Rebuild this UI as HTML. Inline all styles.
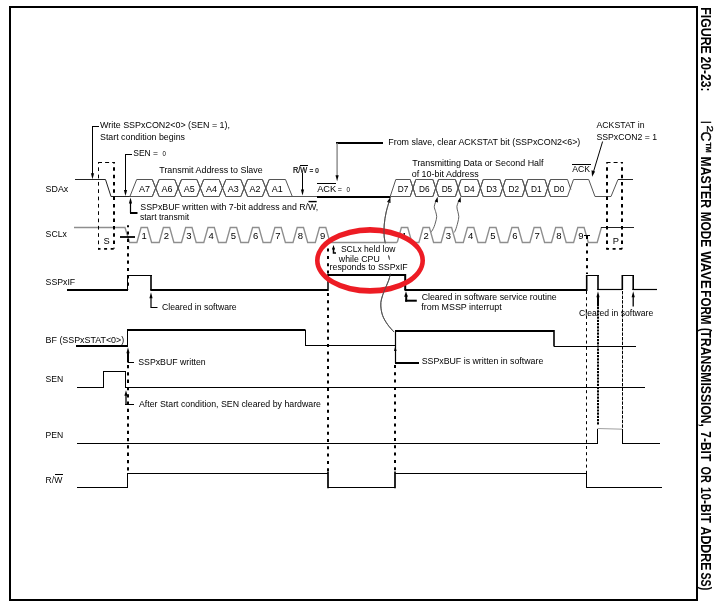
<!DOCTYPE html>
<html lang="en">
<head>
<meta charset="utf-8">
<title>FIGURE 20-23: I2C MASTER MODE WAVEFORM (TRANSMISSION, 7-BIT OR 10-BIT ADDRESS)</title>
<style>
html, body { margin: 0; padding: 0; background: #fff; }
body { width: 719px; height: 605px; overflow: hidden; }
svg { display: block; will-change: transform; }
svg text { font-family: "Liberation Sans", sans-serif; fill: #000; }
</style>
</head>
<body>
<svg width="719" height="605" viewBox="0 0 719 605" font-size="9.3">
<rect x="0" y="0" width="719" height="605" fill="#fff"/>
<rect x="10" y="7" width="687" height="593" fill="none" stroke="#000" stroke-width="2" shape-rendering="crispEdges"/>
<path d="M389.3 201 C388.8 202.8 387.1 208.0 386.2 212 C385.3 216.0 384.5 220.8 384.2 225 C383.9 229.2 383.8 233.2 384.2 237 C384.6 240.8 385.6 244.4 386.5 248 C387.4 251.6 388.6 254.8 389.3 258.5 C390.0 262.2 390.7 266.4 390.6 270 C390.5 273.6 389.8 276.7 388.8 280 C387.8 283.3 385.8 286.8 384.6 290 C383.4 293.2 382.1 296.3 381.5 299 C380.9 301.7 380.6 303.2 380.8 306 C381.0 308.8 381.5 312.4 382.6 315.5 C383.7 318.6 385.7 321.8 387.6 324.5 C389.5 327.2 392.9 330.8 394 332" stroke="#505050" stroke-width="0.9" fill="none"/>
<path d="M390.4 197 L387 202 L390.5 203 Z" fill="#000"/>
<path d="M436.3 200 C436.0 201.1 434.4 204.6 434.3 206.5 C434.2 208.4 435.2 209.8 435.6 211.5 C436.0 213.2 436.7 214.9 436.7 216.7 C436.7 218.4 436.0 220.3 435.6 222 C435.2 223.7 434.6 225.4 434.1 226.7 C433.6 228.0 433.1 229.0 432.5 230 C431.9 231.0 431.1 232.1 430.8 232.5" stroke="#505050" stroke-width="0.9" fill="none"/>
<path d="M437.6 196.7 L434.7 201.6 L438 202.4 Z" fill="#000"/>
<path d="M459.2 200 C458.8 201.1 457.1 204.6 456.9 206.5 C456.7 208.4 457.5 209.8 457.8 211.5 C458.1 213.2 458.8 214.9 458.8 216.7 C458.8 218.4 458.3 220.3 457.9 222 C457.5 223.7 457.0 225.4 456.6 226.7 C456.2 228.0 455.9 229.0 455.5 230 C455.1 231.0 454.4 232.1 454.2 232.5" stroke="#505050" stroke-width="0.9" fill="none"/>
<path d="M460.6 196.7 L457.6 201.6 L460.9 202.4 Z" fill="#000"/>
<rect x="336.5" y="243.2" width="61" height="12.2" fill="#fff"/>
<rect x="329" y="259.6" width="80" height="14" fill="#fff"/>
<path d="M75 179.5 L105.5 179.5 L111 196.5 L130 196.5" stroke="#222" stroke-width="1" fill="none" />
<path d="M129.9 196.5 L136.7 179.5 L152.3 179.5 L159.1 196.5" stroke="#555" stroke-width="1" fill="none" />
<path d="M129.9 196.5 L152.3 196.5 L159.1 179.5" stroke="#555" stroke-width="1" fill="none" />
<text x="139" y="191.8" font-size="9.5" textLength="11" lengthAdjust="spacingAndGlyphs" >A7</text>
<path d="M152.3 196.5 L159.1 179.5 L174.7 179.5 L181.5 196.5" stroke="#555" stroke-width="1" fill="none" />
<path d="M152.3 179.5 L159.1 196.5 L174.7 196.5 L181.5 179.5" stroke="#555" stroke-width="1" fill="none" />
<text x="161.4" y="191.8" font-size="9.5" textLength="11" lengthAdjust="spacingAndGlyphs" >A6</text>
<path d="M174.7 196.5 L181.5 179.5 L196.9 179.5 L203.7 196.5" stroke="#555" stroke-width="1" fill="none" />
<path d="M174.7 179.5 L181.5 196.5 L196.9 196.5 L203.7 179.5" stroke="#555" stroke-width="1" fill="none" />
<text x="183.7" y="191.8" font-size="9.5" textLength="11" lengthAdjust="spacingAndGlyphs" >A5</text>
<path d="M196.9 196.5 L203.7 179.5 L219.1 179.5 L225.9 196.5" stroke="#555" stroke-width="1" fill="none" />
<path d="M196.9 179.5 L203.7 196.5 L219.1 196.5 L225.9 179.5" stroke="#555" stroke-width="1" fill="none" />
<text x="205.9" y="191.8" font-size="9.5" textLength="11" lengthAdjust="spacingAndGlyphs" >A4</text>
<path d="M219.1 196.5 L225.9 179.5 L240.8 179.5 L247.6 196.5" stroke="#555" stroke-width="1" fill="none" />
<path d="M219.1 179.5 L225.9 196.5 L240.8 196.5 L247.6 179.5" stroke="#555" stroke-width="1" fill="none" />
<text x="227.85" y="191.8" font-size="9.5" textLength="11" lengthAdjust="spacingAndGlyphs" >A3</text>
<path d="M240.8 196.5 L247.6 179.5 L262.4 179.5 L269.2 196.5" stroke="#555" stroke-width="1" fill="none" />
<path d="M240.8 179.5 L247.6 196.5 L262.4 196.5 L269.2 179.5" stroke="#555" stroke-width="1" fill="none" />
<text x="249.5" y="191.8" font-size="9.5" textLength="11" lengthAdjust="spacingAndGlyphs" >A2</text>
<path d="M262.4 196.5 L269.2 179.5 L285.5 179.5 L292.3 196.5" stroke="#555" stroke-width="1" fill="none" />
<path d="M262.4 179.5 L269.2 196.5 L292.3 196.5" stroke="#555" stroke-width="1" fill="none" />
<text x="271.85" y="191.8" font-size="9.5" textLength="11" lengthAdjust="spacingAndGlyphs" >A1</text>
<path d="M292 196.5 L317 196.5" stroke="#555" stroke-width="1" fill="none" />
<path d="M317 197 L390.5 197" stroke="#000" stroke-width="2" fill="none" />
<path d="M390.2 196.5 L395.8 179.5 L410.2 179.5 L415.8 196.5" stroke="#555" stroke-width="1" fill="none" />
<path d="M390.2 196.5 L410.2 196.5 L415.8 179.5" stroke="#555" stroke-width="1" fill="none" />
<text x="397.7" y="191.8" font-size="9.5" textLength="10.6" lengthAdjust="spacingAndGlyphs" >D7</text>
<path d="M410.2 196.5 L415.8 179.5 L432.9 179.5 L438.5 196.5" stroke="#555" stroke-width="1" fill="none" />
<path d="M410.2 179.5 L415.8 196.5 L432.9 196.5 L438.5 179.5" stroke="#555" stroke-width="1" fill="none" />
<text x="419.05" y="191.8" font-size="9.5" textLength="10.6" lengthAdjust="spacingAndGlyphs" >D6</text>
<path d="M432.9 196.5 L438.5 179.5 L455.4 179.5 L461 196.5" stroke="#555" stroke-width="1" fill="none" />
<path d="M432.9 179.5 L438.5 196.5 L455.4 196.5 L461 179.5" stroke="#555" stroke-width="1" fill="none" />
<text x="441.65" y="191.8" font-size="9.5" textLength="10.6" lengthAdjust="spacingAndGlyphs" >D5</text>
<path d="M455.4 196.5 L461 179.5 L477.6 179.5 L483.2 196.5" stroke="#555" stroke-width="1" fill="none" />
<path d="M455.4 179.5 L461 196.5 L477.6 196.5 L483.2 179.5" stroke="#555" stroke-width="1" fill="none" />
<text x="464" y="191.8" font-size="9.5" textLength="10.6" lengthAdjust="spacingAndGlyphs" >D4</text>
<path d="M477.6 196.5 L483.2 179.5 L499.9 179.5 L505.5 196.5" stroke="#555" stroke-width="1" fill="none" />
<path d="M477.6 179.5 L483.2 196.5 L499.9 196.5 L505.5 179.5" stroke="#555" stroke-width="1" fill="none" />
<text x="486.25" y="191.8" font-size="9.5" textLength="10.6" lengthAdjust="spacingAndGlyphs" >D3</text>
<path d="M499.9 196.5 L505.5 179.5 L522.3 179.5 L527.9 196.5" stroke="#555" stroke-width="1" fill="none" />
<path d="M499.9 179.5 L505.5 196.5 L522.3 196.5 L527.9 179.5" stroke="#555" stroke-width="1" fill="none" />
<text x="508.6" y="191.8" font-size="9.5" textLength="10.6" lengthAdjust="spacingAndGlyphs" >D2</text>
<path d="M522.3 196.5 L527.9 179.5 L544.9 179.5 L550.5 196.5" stroke="#555" stroke-width="1" fill="none" />
<path d="M522.3 179.5 L527.9 196.5 L544.9 196.5 L550.5 179.5" stroke="#555" stroke-width="1" fill="none" />
<text x="531.1" y="191.8" font-size="9.5" textLength="10.6" lengthAdjust="spacingAndGlyphs" >D1</text>
<path d="M544.9 196.5 L550.5 179.5 L567.5 179.5 L570.9 189.5" stroke="#555" stroke-width="1" fill="none" />
<path d="M544.9 179.5 L550.5 196.5 L567.5 196.5" stroke="#555" stroke-width="1" fill="none" />
<text x="553.7" y="191.8" font-size="9.5" textLength="10.6" lengthAdjust="spacingAndGlyphs" >D0</text>
<path d="M567.5 196.5 L573.5 179.5 L588.7 179.5 L595 196.5 L611 196.5 L618 179.5" stroke="#555" stroke-width="1" fill="none" />
<path d="M617.6 179.5 L632.7 179.5" stroke="#222" stroke-width="1" fill="none" shape-rendering="crispEdges" />
<text x="144.2" y="238.6" font-size="9.5" text-anchor="middle" >1</text>
<text x="166.5" y="238.6" font-size="9.5" text-anchor="middle" >2</text>
<text x="188.8" y="238.6" font-size="9.5" text-anchor="middle" >3</text>
<text x="211.1" y="238.6" font-size="9.5" text-anchor="middle" >4</text>
<text x="233.4" y="238.6" font-size="9.5" text-anchor="middle" >5</text>
<text x="255.7" y="238.6" font-size="9.5" text-anchor="middle" >6</text>
<text x="278" y="238.6" font-size="9.5" text-anchor="middle" >7</text>
<text x="300.3" y="238.6" font-size="9.5" text-anchor="middle" >8</text>
<text x="322.6" y="238.6" font-size="9.5" text-anchor="middle" >9</text>
<path d="M74 227.5 L125 227.5 L129.6 242.5 L136.9 242.5 L141.1 227.5 L147.4 227.5 L151.6 242.5 L159.2 242.5 L163.4 227.5 L169.7 227.5 L173.9 242.5 L181.5 242.5 L185.7 227.5 L192 227.5 L196.2 242.5 L203.8 242.5 L208 227.5 L214.3 227.5 L218.5 242.5 L226.1 242.5 L230.3 227.5 L236.6 227.5 L240.8 242.5 L248.4 242.5 L252.6 227.5 L258.9 227.5 L263.1 242.5 L270.7 242.5 L274.9 227.5 L281.2 227.5 L285.4 242.5 L293 242.5 L297.2 227.5 L303.5 227.5 L307.7 242.5 L315.3 242.5 L319.5 227.5 L325.8 227.5 L330 242.5 L397 242.5" stroke="#8e8e8e" stroke-width="1.35" fill="none" />
<text x="404.5" y="238.6" font-size="9.5" text-anchor="middle" >1</text>
<text x="426.2" y="238.6" font-size="9.5" text-anchor="middle" >2</text>
<text x="448.4" y="238.6" font-size="9.5" text-anchor="middle" >3</text>
<text x="470.6" y="238.6" font-size="9.5" text-anchor="middle" >4</text>
<text x="492.8" y="238.6" font-size="9.5" text-anchor="middle" >5</text>
<text x="515" y="238.6" font-size="9.5" text-anchor="middle" >6</text>
<text x="537.2" y="238.6" font-size="9.5" text-anchor="middle" >7</text>
<text x="558.8" y="238.6" font-size="9.5" text-anchor="middle" >8</text>
<text x="580.9" y="238.6" font-size="9.5" text-anchor="middle" >9</text>
<path d="M397.2 242.5 L401.4 227.5 L407.7 227.5 L411.9 242.5 L418.9 242.5 L423.1 227.5 L429.4 227.5 L433.6 242.5 L441.1 242.5 L445.3 227.5 L451.6 227.5 L455.8 242.5 L463.3 242.5 L467.5 227.5 L473.8 227.5 L478 242.5 L485.5 242.5 L489.7 227.5 L496 227.5 L500.2 242.5 L507.7 242.5 L511.9 227.5 L518.2 227.5 L522.4 242.5 L529.9 242.5 L534.1 227.5 L540.4 227.5 L544.6 242.5 L551.5 242.5 L555.7 227.5 L562 227.5 L566.2 242.5 L573.6 242.5 L577.8 227.5 L584.1 227.5 L588.3 242.5 L597.2 242.5 L601.4 227.5" stroke="#8e8e8e" stroke-width="1.35" fill="none" />
<path d="M601 227.5 L634 227.5" stroke="#222" stroke-width="1" fill="none" shape-rendering="crispEdges" />
<path d="M98 162.5 L115 162.5" stroke="#000" stroke-width="1" fill="none" stroke-dasharray="4 3.1"/>
<path d="M98.5 162.5 L98.5 249.5" stroke="#000" stroke-width="1" stroke-dasharray="3.7 3.62" stroke-dashoffset="2.50" fill="none"/>
<path d="M114 162.5 L114 248.5" stroke="#000" stroke-width="2" stroke-dasharray="3.5 3.82" stroke-dashoffset="2.50" fill="none"/>
<path d="M98 248.9 L115 248.9" stroke="#000" stroke-width="1.8" fill="none" stroke-dasharray="3 3.6" stroke-dashoffset="0.5"/>
<text x="106.7" y="244" text-anchor="middle" >S</text>
<path d="M606.5 162.5 L623 162.5" stroke="#000" stroke-width="1" fill="none" stroke-dasharray="4 3.1"/>
<path d="M607 162.5 L607 249.5" stroke="#000" stroke-width="2" stroke-dasharray="3.5 3.82" stroke-dashoffset="2.50" fill="none"/>
<path d="M622 162.5 L622 248.5" stroke="#000" stroke-width="2" stroke-dasharray="3.5 3.82" stroke-dashoffset="2.50" fill="none"/>
<path d="M606.5 248.9 L623 248.9" stroke="#000" stroke-width="1.8" fill="none" stroke-dasharray="3 3.6" stroke-dashoffset="0.5"/>
<text x="615.9" y="243.7" text-anchor="middle" >P</text>
<path d="M67 290 L128 290" stroke="#000" stroke-width="2" fill="none" />
<path d="M127.5 291 L127.5 275" stroke="#000" stroke-width="1" fill="none" shape-rendering="crispEdges" />
<path d="M127.2 275.5 L151.8 275.5" stroke="#000" stroke-width="1" fill="none" shape-rendering="crispEdges" />
<path d="M151 275.5 L151 290" stroke="#000" stroke-width="1.6" fill="none" />
<path d="M150.3 290 L328 290" stroke="#000" stroke-width="2" fill="none" />
<path d="M328 291 L328 274.5" stroke="#000" stroke-width="1.5" fill="none" />
<path d="M327.3 275 L405.2 275 L405.2 290" stroke="#000" stroke-width="2" fill="none" />
<path d="M404.5 290 L586.5 290" stroke="#000" stroke-width="2" fill="none" />
<path d="M586.7 291 L586.7 275" stroke="#000" stroke-width="1.6" fill="none" />
<path d="M586 275.5 L598.8 275.5" stroke="#000" stroke-width="1" fill="none" shape-rendering="crispEdges" />
<path d="M598 275.5 L598 290" stroke="#000" stroke-width="1.6" fill="none" />
<path d="M597.3 289.5 L622.3 289.5" stroke="#000" stroke-width="1.2" fill="none" />
<path d="M622.3 290 L622.3 275" stroke="#000" stroke-width="1.6" fill="none" />
<path d="M621.5 275.5 L634 275.5" stroke="#000" stroke-width="1" fill="none" shape-rendering="crispEdges" />
<path d="M633.2 275.5 L633.2 290" stroke="#000" stroke-width="1.6" fill="none" />
<path d="M632.5 289.5 L657 289.5" stroke="#000" stroke-width="1.2" fill="none" />
<path d="M76 346 L128 346" stroke="#000" stroke-width="2" fill="none" />
<path d="M127.5 346 L127.5 330" stroke="#000" stroke-width="1" fill="none" shape-rendering="crispEdges" />
<path d="M127 330 L305.5 330" stroke="#000" stroke-width="2" fill="none" />
<path d="M305.5 330 L305.5 345.5 L395 345.5" stroke="#000" stroke-width="1" fill="none" shape-rendering="crispEdges" />
<path d="M395.5 346 L395.5 331" stroke="#000" stroke-width="1.2" fill="none" />
<path d="M395 331 L554 331" stroke="#000" stroke-width="2" fill="none" />
<path d="M554 330 L554 346.5" stroke="#000" stroke-width="1.6" fill="none" />
<path d="M554 346.5 L636 346.5" stroke="#000" stroke-width="1" fill="none" shape-rendering="crispEdges" />
<path d="M77 387.5 L103.5 387.5 L103.5 371.5 L125.5 371.5 L125.5 387.5" stroke="#000" stroke-width="1" fill="none" shape-rendering="crispEdges" />
<path d="M125 387.5 L645 387.5" stroke="#000" stroke-width="1.15" fill="none" />
<path d="M77 443.5 L597.5 443.5 L597.5 428.5" stroke="#000" stroke-width="1" fill="none" shape-rendering="crispEdges" />
<path d="M597.5 428.5 L622.5 429.2" stroke="#a0a0a0" stroke-width="1" fill="none" />
<path d="M622.5 428.5 L622.5 443.5 L660 443.5" stroke="#000" stroke-width="1" fill="none" shape-rendering="crispEdges" />
<path d="M77 487.5 L127.5 487.5 L127.5 473.5 L328 473.5" stroke="#000" stroke-width="1" fill="none" shape-rendering="crispEdges" />
<path d="M328 471.5 L328 488.3" stroke="#000" stroke-width="1.7" fill="none" />
<path d="M328 487.5 L395 487.5" stroke="#000" stroke-width="1" fill="none" shape-rendering="crispEdges" />
<path d="M395 471.5 L395 488.3" stroke="#000" stroke-width="1.7" fill="none" />
<path d="M395 473.5 L586.5 473.5 L586.5 487.5 L662 487.5" stroke="#000" stroke-width="1" fill="none" shape-rendering="crispEdges" />
<path d="M128 225.2 L128 290" stroke="#000" stroke-width="2" stroke-dasharray="3.2 4.1" stroke-dashoffset="1.10" fill="none"/>
<path d="M128 365 L128 473" stroke="#000" stroke-width="2" stroke-dasharray="3.3 4" stroke-dashoffset="0.00" fill="none"/>
<path d="M328 247.9 L328 274" stroke="#000" stroke-width="2" stroke-dasharray="3 4.3" stroke-dashoffset="6.60" fill="none"/>
<path d="M328 293 L328 473" stroke="#000" stroke-width="2" stroke-dasharray="3 4.3" stroke-dashoffset="0.00" fill="none"/>
<path d="M395 365 L395 473" stroke="#000" stroke-width="2" stroke-dasharray="3 4.3" stroke-dashoffset="0.00" fill="none"/>
<path d="M587 236 L587 274" stroke="#000" stroke-width="2" stroke-dasharray="3 4.3" stroke-dashoffset="0.00" fill="none"/>
<path d="M586.5 291 L586.5 473" stroke="#000" stroke-width="1" stroke-dasharray="3 3.2" stroke-dashoffset="0.00" fill="none"/>
<path d="M598 307 L598 425" stroke="#000" stroke-width="2" stroke-dasharray="2.2 1" stroke-dashoffset="0.00" fill="none"/>
<path d="M622.5 291 L622.5 428" stroke="#000" stroke-width="1" stroke-dasharray="3.4 1.2" stroke-dashoffset="0.00" fill="none"/>
<path d="M120 237 L135 237" stroke="#000" stroke-width="1.8" fill="none" />
<path d="M584 235.5 L590 235.5" stroke="#000" stroke-width="1" fill="none" shape-rendering="crispEdges" />
<path d="M99 126.5 L92.5 126.5 L92.5 174" stroke="#000" stroke-width="1" fill="none" shape-rendering="crispEdges" />
<path d="M90.9 173.2 L94.1 173.2 L92.5 179.2 Z" fill="#000"/>
<path d="M132 154.5 L125.5 154.5 L125.5 191" stroke="#000" stroke-width="1" fill="none" shape-rendering="crispEdges" />
<path d="M123.9 190 L127.1 190 L125.5 196 Z" fill="#000"/>
<path d="M302.5 173 L302.5 190" stroke="#000" stroke-width="1" fill="none" shape-rendering="crispEdges" />
<path d="M300.9 189.5 L304.1 189.5 L302.5 195.5 Z" fill="#000"/>
<path d="M336 143 L383 143" stroke="#000" stroke-width="2" fill="none" />
<path d="M337.1 143 L337.1 176" stroke="#888" stroke-width="1.4" fill="none" />
<path d="M335.5 175.2 L338.7 175.2 L337.1 181.2 Z" fill="#000"/>
<path d="M602.6 141.5 L593.4 172" stroke="#000" stroke-width="1" fill="none" />
<path d="M592.1 176.8 L591.5 170.2 L595.1 171.4 Z" fill="#000"/>
<path d="M130.5 203 L130.5 213" stroke="#000" stroke-width="1.2" fill="none" />
<path d="M130 213 L137.5 213" stroke="#000" stroke-width="2" fill="none" />
<path d="M128.9 203.5 L132.1 203.5 L130.5 197.5 Z" fill="#000"/>
<path d="M151 298 L151 307.5 L157.5 307.5" stroke="#000" stroke-width="1.2" fill="none" />
<path d="M149.4 298.2 L152.6 298.2 L151 292.2 Z" fill="#000"/>
<path d="M333.5 248 L333.5 253 L336 253" stroke="#000" stroke-width="1.5" fill="none" />
<path d="M331.9 249.5 L335.1 249.5 L333.5 245 Z" fill="#000"/>
<path d="M406.2 295 L406.2 301.7" stroke="#000" stroke-width="2" fill="none" />
<path d="M405.2 300.7 L416.8 300.7" stroke="#000" stroke-width="2" fill="none" />
<path d="M404.2 296.8 L407.8 296.8 L406 291.3 Z" fill="#000"/>
<path d="M598 297 L598 306.5" stroke="#000" stroke-width="2" fill="none" />
<path d="M596.4 297.3 L599.6 297.3 L598 291.3 Z" fill="#000"/>
<path d="M633.2 297 L633.2 306.5" stroke="#000" stroke-width="1.3" fill="none" />
<path d="M631.6 297.3 L634.8 297.3 L633.2 291.3 Z" fill="#000"/>
<path d="M128 353 L128 362.5" stroke="#000" stroke-width="2" fill="none" />
<path d="M128 362.5 L134.3 362.5" stroke="#000" stroke-width="1" fill="none" shape-rendering="crispEdges" />
<path d="M126.4 353.3 L129.6 353.3 L128 347.3 Z" fill="#000"/>
<path d="M126 395 L126 404.5" stroke="#000" stroke-width="1.3" fill="none" />
<path d="M125.4 404.5 L134.3 404.5" stroke="#000" stroke-width="1" fill="none" shape-rendering="crispEdges" />
<path d="M124.4 395.7 L127.6 395.7 L126 390.2 Z" fill="#000"/>
<path d="M395.5 346 L395.5 363" stroke="#000" stroke-width="1.2" fill="none" />
<path d="M395 363 L419 363" stroke="#000" stroke-width="2" fill="none" />
<path d="M394 351 L396.6 351 L395.3 346 Z" fill="#000"/>
<path d="M315 260.4 A55 33.3 0 1 1 425 260.4 A55 33.3 0 1 1 315 260.4 Z M319.6 260.4 A50.4 27.6 0 1 0 420.4 260.4 A50.4 27.6 0 1 0 319.6 260.4 Z" fill="#ed1c24" fill-rule="evenodd"/>
<clipPath id="cv"><path clip-rule="evenodd" d="M0 0H719V605H0Z M336.5 243.2h61v12.2h-61Z M329 259.6h80v14.7h-80Z"/></clipPath>
<g clip-path="url(#cv)">
<path d="M389.3 201 C388.8 202.8 387.1 208.0 386.2 212 C385.3 216.0 384.5 220.8 384.2 225 C383.9 229.2 383.8 233.2 384.2 237 C384.6 240.8 385.6 244.4 386.5 248 C387.4 251.6 388.6 254.8 389.3 258.5 C390.0 262.2 390.7 266.4 390.6 270 C390.5 273.6 389.8 276.7 388.8 280 C387.8 283.3 385.8 286.8 384.6 290 C383.4 293.2 382.1 296.3 381.5 299 C380.9 301.7 380.6 303.2 380.8 306 C381.0 308.8 381.5 312.4 382.6 315.5 C383.7 318.6 385.7 321.8 387.6 324.5 C389.5 327.2 392.9 330.8 394 332" stroke="#505050" stroke-width="0.9" fill="none"/>
</g>
<text x="100" y="127.5" textLength="130" lengthAdjust="spacingAndGlyphs" >Write SSPxCON2&lt;0&gt; (SEN = 1),</text>
<text x="100" y="140.2" textLength="85" lengthAdjust="spacingAndGlyphs" >Start condition begins</text>
<text x="133.3" y="155.5" textLength="24.7" lengthAdjust="spacingAndGlyphs" >SEN =</text>
<text x="162.6" y="155.5" font-size="7.2" textLength="3.4" lengthAdjust="spacingAndGlyphs" >0</text>
<text x="159.3" y="173" textLength="103.4" lengthAdjust="spacingAndGlyphs" >Transmit Address to Slave</text>
<text x="293" y="172.5" font-size="8.2" textLength="14.2" lengthAdjust="spacingAndGlyphs" stroke="#000" stroke-width="0.2">R/W</text>
<path d="M299.5 165.5 L307.5 165.5" stroke="#000" stroke-width="1" fill="none" shape-rendering="crispEdges" />
<text x="309.4" y="172.5" font-size="8.2" textLength="3.8" lengthAdjust="spacingAndGlyphs" stroke="#000" stroke-width="0.2">=</text>
<text x="315.2" y="172.5" font-size="7.4" textLength="3.5" lengthAdjust="spacingAndGlyphs" stroke="#000" stroke-width="0.2">0</text>
<text x="317.2" y="191.8" textLength="19" lengthAdjust="spacingAndGlyphs" >ACK</text>
<path d="M317 183.5 L336 183.5" stroke="#000" stroke-width="1" fill="none" shape-rendering="crispEdges" />
<text x="337.8" y="191.8" textLength="4.2" lengthAdjust="spacingAndGlyphs" >=</text>
<text x="346.5" y="191.8" font-size="7" textLength="3.5" lengthAdjust="spacingAndGlyphs" >0</text>
<text x="388.3" y="144.8" textLength="192" lengthAdjust="spacingAndGlyphs" >From slave, clear ACKSTAT bit (SSPxCON2&lt;6&gt;)</text>
<text x="412.3" y="165.8" textLength="131.2" lengthAdjust="spacingAndGlyphs" >Transmitting Data or Second Half</text>
<text x="411.7" y="176.8" textLength="67" lengthAdjust="spacingAndGlyphs" >of 10-bit Address</text>
<text x="596.5" y="127.9" textLength="48" lengthAdjust="spacingAndGlyphs" >ACKSTAT in</text>
<text x="596.5" y="139.8" textLength="60.5" lengthAdjust="spacingAndGlyphs" >SSPxCON2 = 1</text>
<text x="572.2" y="172.4" textLength="17.8" lengthAdjust="spacingAndGlyphs" >ACK</text>
<path d="M572 164.5 L590.5 164.5" stroke="#000" stroke-width="1" fill="none" shape-rendering="crispEdges" />
<text x="140.3" y="209.8" textLength="178" lengthAdjust="spacingAndGlyphs" >SSPxBUF written with 7-bit address and R/W,</text>
<path d="M308.5 201.6 L316.7 201.6" stroke="#000" stroke-width="1.4" fill="none" />
<text x="140" y="219.8" textLength="49.2" lengthAdjust="spacingAndGlyphs" >start transmit</text>
<text x="340.9" y="251.5" textLength="54.5" lengthAdjust="spacingAndGlyphs" >SCLx held low</text>
<text x="338.8" y="261.6" textLength="41" lengthAdjust="spacingAndGlyphs" >while CPU</text>
<text x="329.6" y="269.7" textLength="78.1" lengthAdjust="spacingAndGlyphs" >responds to SSPxIF</text>
<text x="162" y="310.3" textLength="74.7" lengthAdjust="spacingAndGlyphs" >Cleared in software</text>
<text x="421.7" y="300.2" textLength="135" lengthAdjust="spacingAndGlyphs" >Cleared in software service routine</text>
<text x="421.3" y="309.8" textLength="80.4" lengthAdjust="spacingAndGlyphs" >from MSSP interrupt</text>
<text x="579" y="315.7" textLength="74.2" lengthAdjust="spacingAndGlyphs" >Cleared in software</text>
<text x="138.3" y="365.3" textLength="67.4" lengthAdjust="spacingAndGlyphs" >SSPxBUF written</text>
<text x="421.7" y="363.8" textLength="121.6" lengthAdjust="spacingAndGlyphs" >SSPxBUF is written in software</text>
<text x="139" y="406.9" textLength="182" lengthAdjust="spacingAndGlyphs" >After Start condition, SEN cleared by hardware</text>
<text x="45.6" y="191.8" textLength="22.6" lengthAdjust="spacingAndGlyphs" >SDAx</text>
<text x="45.6" y="236.7" textLength="21.2" lengthAdjust="spacingAndGlyphs" >SCLx</text>
<text x="45.6" y="284.6" textLength="29.6" lengthAdjust="spacingAndGlyphs" >SSPxIF</text>
<text x="45.6" y="343.1" textLength="78.6" lengthAdjust="spacingAndGlyphs" >BF (SSPxSTAT&lt;0&gt;)</text>
<text x="45.6" y="381.6" textLength="17.7" lengthAdjust="spacingAndGlyphs" >SEN</text>
<text x="45.6" y="438.3" textLength="17.7" lengthAdjust="spacingAndGlyphs" >PEN</text>
<text x="45.6" y="482.6" textLength="16.7" lengthAdjust="spacingAndGlyphs" >R/W</text>
<path d="M54.5 474.5 L62.5 474.5" stroke="#000" stroke-width="1" fill="none" shape-rendering="crispEdges" />
<g transform="translate(701.1 0) rotate(90)" font-weight="bold" font-size="13.8">
<text x="7.2" y="0" textLength="46.6" lengthAdjust="spacingAndGlyphs">FIGURE</text>
<text x="56.5" y="0" textLength="35" lengthAdjust="spacingAndGlyphs">20-23:</text>
<text x="121.1" y="0" font-weight="normal" stroke="#000" stroke-width="0.35" textLength="2.8" lengthAdjust="spacingAndGlyphs">I</text>
<text x="125.6" y="-5.6" font-size="9.5" font-weight="normal" stroke="#000" stroke-width="0.35" textLength="6.6" lengthAdjust="spacingAndGlyphs">2</text>
<text x="131.5" y="0" font-weight="normal" stroke="#000" stroke-width="0.35" textLength="9.9" lengthAdjust="spacingAndGlyphs">C</text>
<text x="142.6" y="-5" font-size="7.2" font-weight="bold" stroke="#000" stroke-width="0.35" textLength="10" lengthAdjust="spacingAndGlyphs">TM</text>
<text x="156.5" y="0" textLength="51.5" lengthAdjust="spacingAndGlyphs">MASTER</text>
<text x="211.8" y="0" textLength="35.4" lengthAdjust="spacingAndGlyphs">MODE</text>
<text x="251.2" y="0" textLength="37.4" lengthAdjust="spacingAndGlyphs">WAVE</text>
<text x="290.3" y="0" textLength="34.2" lengthAdjust="spacingAndGlyphs">FORM</text>
<text x="328" y="0" textLength="3.4" lengthAdjust="spacingAndGlyphs">(</text>
<text x="330.5" y="0" textLength="96.5" lengthAdjust="spacingAndGlyphs">TRANSMISSION,</text>
<text x="431.3" y="0" textLength="29.9" lengthAdjust="spacingAndGlyphs">7-BIT</text>
<text x="466.5" y="0" textLength="16.3" lengthAdjust="spacingAndGlyphs">OR</text>
<text x="487" y="0" textLength="35.8" lengthAdjust="spacingAndGlyphs">10-BIT</text>
<text x="526.5" y="0" textLength="43.9" lengthAdjust="spacingAndGlyphs">ADDRE</text>
<text x="572.5" y="0" textLength="17.7" lengthAdjust="spacingAndGlyphs">SS)</text>
</g>
</svg>
</body>
</html>
